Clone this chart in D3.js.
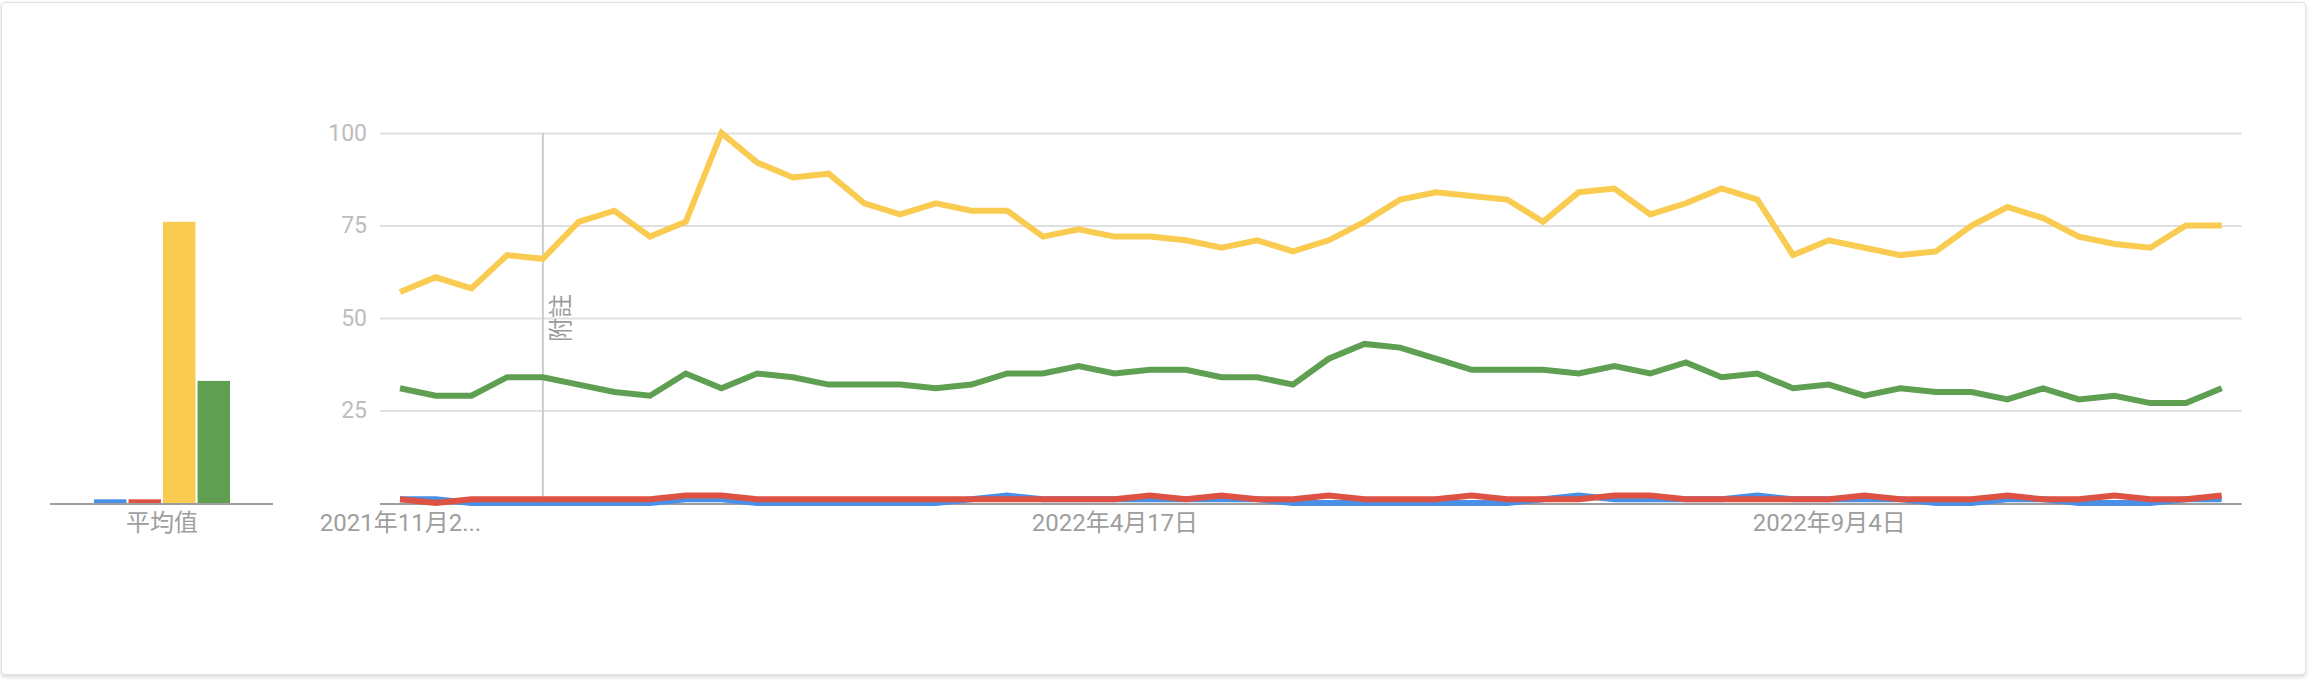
<!DOCTYPE html>
<html>
<head>
<meta charset="utf-8">
<script src="https://cdn.jsdelivr.net/npm/d3@7"></script>
<style>
  html, body { margin: 0; padding: 0; background: #fff; width: 2312px; height: 682px; overflow: hidden; }
  #card { position: absolute; left: 1px; top: 2px; width: 2303px; height: 671px; border: 1px solid #e3e3e3; border-radius: 4px; box-shadow: 0 2px 4px rgba(0,0,0,0.16); background: #fff; }
  svg { position: absolute; left: 0; top: 0; }
  text { font-family: Roboto, "Noto Sans CJK TC", "Noto Sans CJK SC", sans-serif; }
</style>
</head>
<body>
<div id="card"></div>
<svg id="chart" width="2312" height="682"></svg>
<script>
// ---- data ----
const seriesNames = ["s1", "s2", "s3", "s4"];
const seriesColors = ["#4a8fe6", "#dd5243", "#f9cb50", "#5f9f52"];
const averages = [1, 1, 76, 33];
const averageLabel = "平均值";

const blue   = [1,1,0,0,0,0,0,0,1,1,0,0,0,0,0,0,1,2,1,1,1,1,1,1,1,0,0,0,0,0,0,0,1,2,1,1,1,1,2,1,1,1,1,0,0,1,1,0,0,0,1,1];
const red    = [1,0,1,1,1,1,1,1,2,2,1,1,1,1,1,1,1,1,1,1,1,2,1,2,1,1,2,1,1,1,2,1,1,1,2,2,1,1,1,1,1,2,1,1,1,2,1,1,2,1,1,2];
const yellow = [57,61,58,67,66,76,79,72,76,100,92,88,89,81,78,81,79,79,72,74,72,72,71,69,71,68,71,76,82,84,83,82,76,84,85,78,81,85,82,67,71,69,67,68,75,80,77,72,70,69,75,75];
const green  = [31,29,29,34,34,32,30,29,35,31,35,34,32,32,32,31,32,35,35,37,35,36,36,34,34,32,39,43,42,39,36,36,36,35,37,35,38,34,35,31,32,29,31,30,30,28,31,28,29,27,27,31];

const xTickIndex = [0, 20, 40];
const xTickLabels = ["2021年11月2...", "2022年4月17日", "2022年9月4日"];
const yTicks = [25, 50, 75, 100];
const annotationIndex = 4;
const annotationText = "附註";

// ---- layout ----
const svg = d3.select("#chart");
const baseY = 503, topY = 133;
const y = d3.scaleLinear().domain([0, 100]).range([baseY, topY]);
const nPts = yellow.length;
const x = d3.scaleLinear().domain([0, nPts - 1]).range([400, 2221.7]);
const gridX0 = 380, gridX1 = 2241.7;

// ---- left average bars ----
const xb = d3.scaleBand().domain(seriesNames).range([94, 230]).paddingInner(0.06);
svg.append("g").selectAll("rect").data(averages).join("rect")
  .attr("x", (d, i) => xb(seriesNames[i]))
  .attr("width", xb.bandwidth())
  .attr("y", d => y(d))
  .attr("height", d => baseY - y(d))
  .attr("fill", (d, i) => seriesColors[i]);
svg.append("line").attr("x1", 50).attr("x2", 273).attr("y1", baseY + 1).attr("y2", baseY + 1)
  .attr("stroke", "#9e9e9e").attr("stroke-width", 2);
svg.append("text").attr("x", 162).attr("y", 531).attr("text-anchor", "middle")
  .attr("font-size", 24).attr("fill", "#9e9e9e").text(averageLabel);

// ---- gridlines and y labels ----
const yAxis = d3.axisLeft(y).tickValues(yTicks).tickSize(-(gridX1 - gridX0)).tickPadding(13);
const gy = svg.append("g").attr("transform", `translate(${gridX0},0)`).call(yAxis);
gy.select(".domain").remove();
gy.selectAll(".tick line").attr("stroke", "#e0e0e0").attr("stroke-width", 2);
gy.selectAll(".tick text").attr("font-size", 23).attr("fill", "#bdbdbd")
  .attr("font-family", "Roboto, sans-serif");

// baseline
svg.append("line").attr("x1", gridX0).attr("x2", gridX1).attr("y1", baseY + 1).attr("y2", baseY + 1)
  .attr("stroke", "#9e9e9e").attr("stroke-width", 2);

// annotation line
svg.append("line").attr("x1", x(annotationIndex)).attr("x2", x(annotationIndex))
  .attr("y1", topY).attr("y2", baseY)
  .attr("stroke", "#cccccc").attr("stroke-width", 2);
svg.append("text")
  .attr("transform", `translate(${x(annotationIndex) + 26},${y(50)}) rotate(-90)`)
  .attr("text-anchor", "middle").attr("font-size", 24).attr("fill", "#9a9a9a")
  .text(annotationText);

// ---- x labels ----
const xAxis = d3.axisBottom(x).tickValues(xTickIndex).tickSize(0).tickPadding(0)
  .tickFormat((d, i) => xTickLabels[i]);
const gx = svg.append("g").attr("transform", `translate(0,${baseY})`).call(xAxis);
gx.select(".domain").remove();
gx.selectAll(".tick text").attr("dy", null).attr("y", 28).attr("font-size", 24).attr("fill", "#9e9e9e");

// ---- lines ----
const allSeries = [blue, red, yellow, green];
const line = d3.line().x((d, i) => x(i)).y(d => y(d));
svg.append("g").selectAll("path").data(allSeries).join("path")
  .attr("d", line)
  .attr("fill", "none")
  .attr("stroke", (d, i) => seriesColors[i])
  .attr("stroke-width", 6)
  .attr("stroke-linejoin", "miter");
</script>
</body>
</html>
